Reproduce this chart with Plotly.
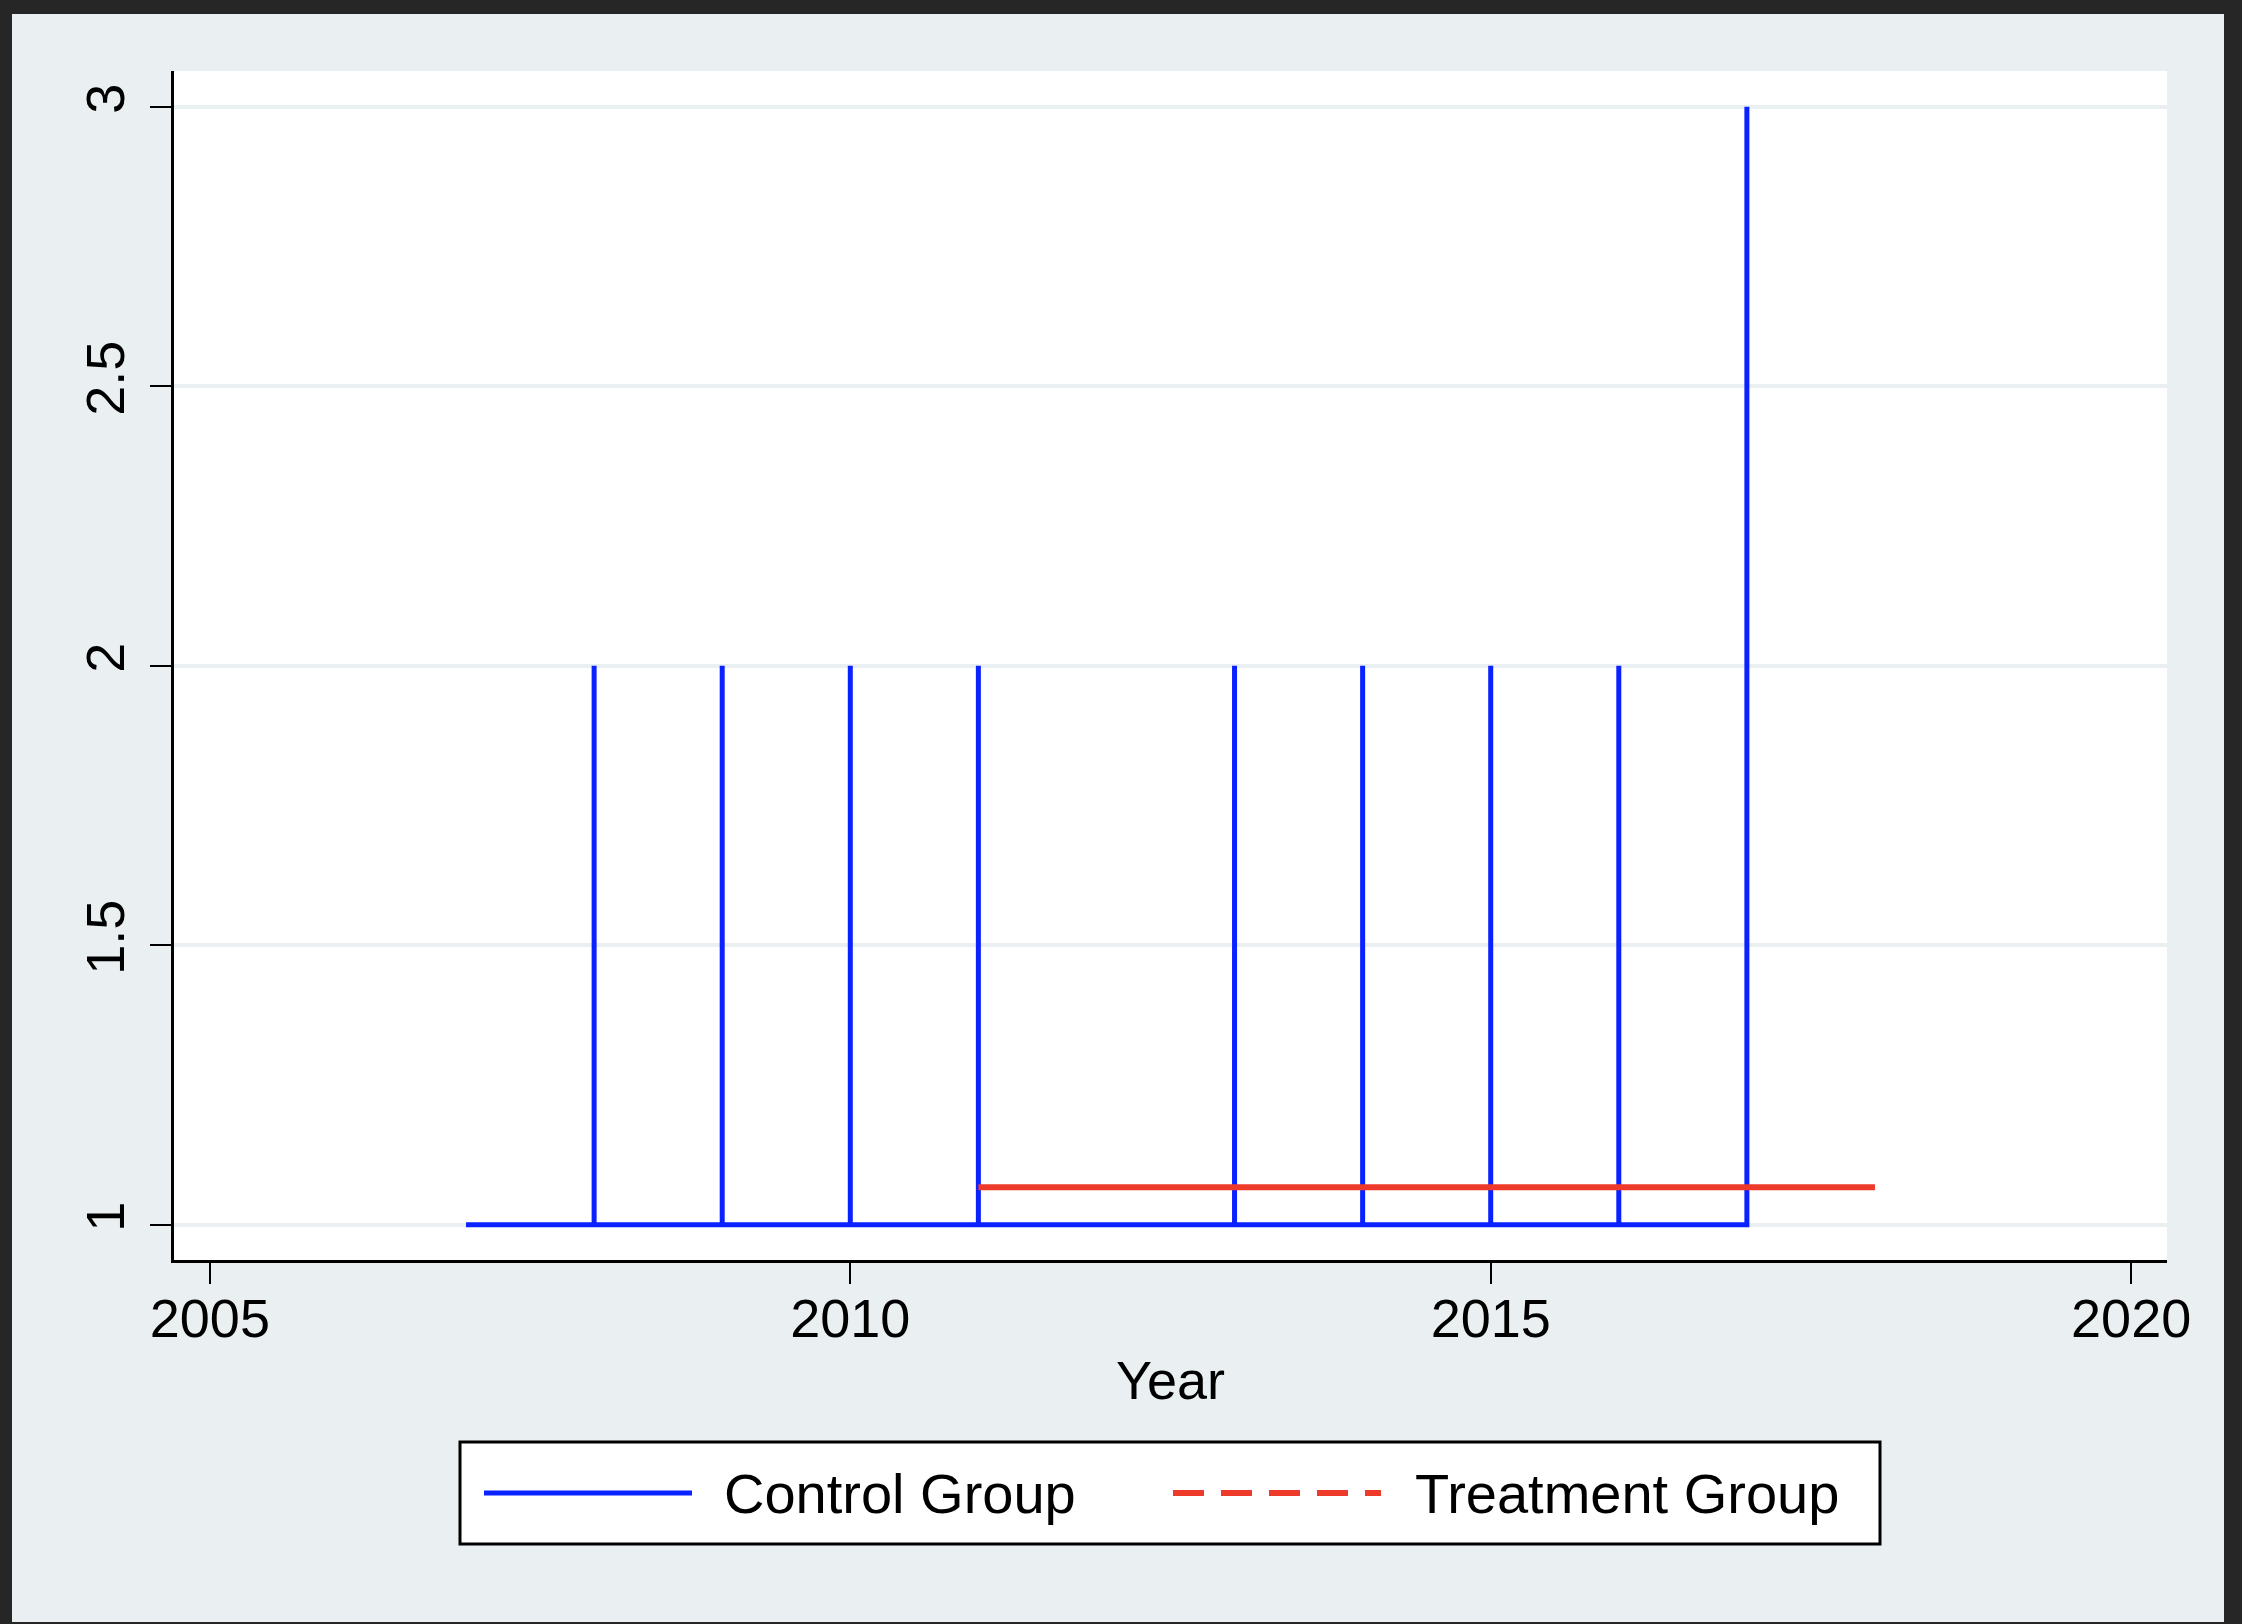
import plotly.graph_objects as go

# control group path (Stata line through duplicated years -> spikes)
control_year = [2007, 2008, 2008, 2008, 2009, 2009, 2009, 2010, 2010, 2010,
                2011, 2011, 2011, 2012, 2013, 2013, 2013, 2014, 2014, 2014,
                2015, 2015, 2015, 2016, 2016, 2016, 2017, 2017]
control_value = [1, 1, 2, 1, 1, 2, 1, 1, 2, 1,
                 1, 2, 1, 1, 1, 2, 1, 1, 2, 1,
                 1, 2, 1, 1, 2, 1, 1, 3]

treat_year = [2011, 2012, 2013, 2014, 2015, 2016, 2017, 2018]
treat_value = [1.067, 1.067, 1.067, 1.067, 1.067, 1.067, 1.067, 1.067]

x_ticks = [2005, 2010, 2015, 2020]
y_ticks = [1, 1.5, 2, 2.5, 3]
y_tick_labels = ["1", "1.5", "2", "2.5", "3"]

BLUE = "#0a22ff"
RED = "#ee3a2a"
BG = "#eaf0f1"
DARK = "#262626"
FONT = "Liberation Sans"

fig = go.Figure()
fig.add_trace(go.Scatter(x=control_year, y=control_value, mode="lines",
                         line=dict(color=BLUE, width=5), name="Control Group",
                         showlegend=False))
fig.add_trace(go.Scatter(x=treat_year, y=treat_value, mode="lines",
                         line=dict(color=RED, width=6), name="Treatment Group",
                         showlegend=False))

# plot area: x 174..2167 px, y 71..1260 px
W, H = 2242, 1624
L, R, T, B = 174, 2167, 71, 1260
pw, ph = R - L, B - T


def px(x):
    return (x - L) / pw


def py(y):
    return (B - y) / ph


shapes = []
# dark frame around the image
for x0, x1, y0, y1 in [(0, 12, 0, H), (2224, W, 0, H), (0, W, 0, 14), (0, W, 1622, H)]:
    shapes.append(dict(type="rect", xref="paper", yref="paper",
                       x0=px(x0), x1=px(x1), y0=py(y1), y1=py(y0),
                       fillcolor=DARK, line=dict(width=0), layer="above"))

# legend box and samples
shapes.append(dict(type="rect", xref="paper", yref="paper",
                   x0=px(460), x1=px(1880), y0=py(1544), y1=py(1442),
                   fillcolor="white", line=dict(color="black", width=3)))
shapes.append(dict(type="line", xref="paper", yref="paper",
                   x0=px(484), x1=px(692), y0=py(1493), y1=py(1493),
                   line=dict(color=BLUE, width=5)))
shapes.append(dict(type="line", xref="paper", yref="paper",
                   x0=px(1173), x1=px(1381), y0=py(1493), y1=py(1493),
                   line=dict(color=RED, width=6, dash="31px,17px")))

annotations = [
    dict(text="Control Group", xref="paper", yref="paper", x=px(722), y=py(1493),
         xanchor="left", yanchor="middle", showarrow=False,
         font=dict(family=FONT, size=56, color="black")),
    dict(text="Treatment Group", xref="paper", yref="paper", x=px(1413), y=py(1493),
         xanchor="left", yanchor="middle", showarrow=False,
         font=dict(family=FONT, size=56, color="black")),
]

fig.update_layout(
    width=W, height=H,
    margin=dict(l=L, r=W - R, t=T, b=H - B),
    paper_bgcolor=BG, plot_bgcolor="white",
    font=dict(family=FONT, size=54, color="black"),
    showlegend=False,
    shapes=shapes, annotations=annotations,
    xaxis=dict(range=[2004.72, 2020.28], tickvals=x_ticks, showgrid=False,
               zeroline=False, showline=True, linecolor="black", linewidth=3,
               ticks="outside", ticklen=21, tickwidth=2, tickcolor="black",
               ticklabelstandoff=-12,
               title=dict(text="Year", standoff=15, font=dict(size=54))),
    yaxis=dict(range=[0.937, 3.064], tickvals=y_ticks, ticktext=y_tick_labels,
               tickangle=-90, showgrid=True, gridcolor=BG, gridwidth=4,
               zeroline=False, showline=True, linecolor="black", linewidth=3,
               ticks="outside", ticklen=21, tickwidth=2, tickcolor="black",
               ticklabelstandoff=4),
)

fig.write_html("out.html", config={"displayModeBar": False},
               post_script="document.body.style.margin='0';")
